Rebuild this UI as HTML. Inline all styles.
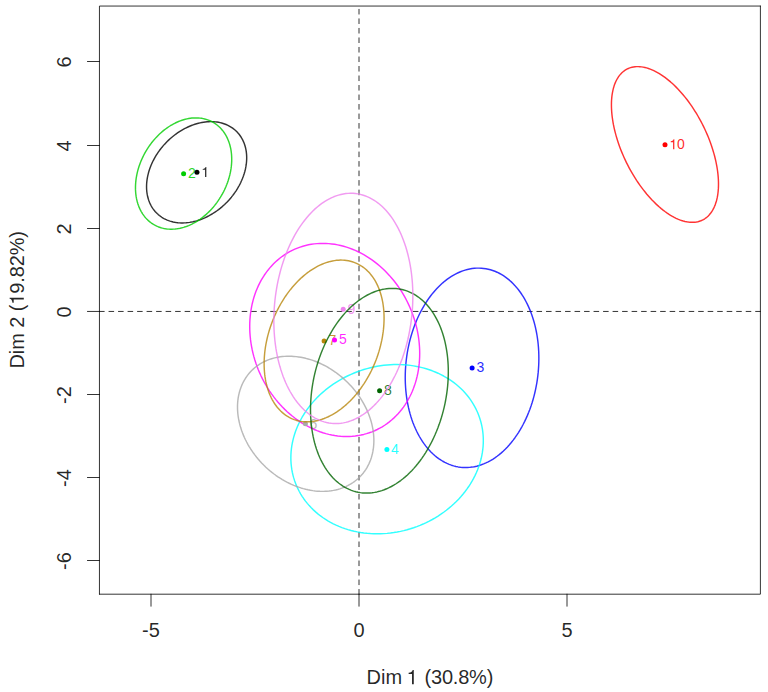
<!DOCTYPE html><html><head><meta charset="utf-8"><title>PCA</title>
<style>html,body{margin:0;padding:0;background:#fff;}svg{display:block;}text{font-family:"Liberation Sans",sans-serif;}</style></head><body>
<svg width="768" height="692" viewBox="0 0 768 692">
<rect width="768" height="692" fill="#fff"/>
<g stroke="#000" stroke-width="0.80" stroke-linecap="round" stroke-dasharray="4.755 4.755" fill="none">
<path d="M359.00,594.20 L359.00,6.06"/>
<path d="M99.45,311.45 L760.40,311.45"/>
</g>
<path d="M206.33,176.90 L206.33,166.97 L205.53,166.97 C205.36,167.94 204.66,168.81 202.73,168.95 L202.73,169.83 L205.09,169.83 L205.09,176.90Z" fill="#000000" fill-opacity="0.85"/>
<path d="M674.33,149.25 L674.33,139.32 L673.53,139.32 C673.36,140.29 672.66,141.16 670.73,141.30 L670.73,142.18 L673.09,142.18 L673.09,149.25Z" fill="#FF0000" fill-opacity="0.85"/><text x="677.09" y="149.25" font-size="14" fill="#FF0000" fill-opacity="0.85" text-anchor="start" letter-spacing="0.000" xml:space="preserve">0</text>
<text x="187.90" y="177.90" font-size="14" fill="#00CD00" fill-opacity="0.85" text-anchor="start" letter-spacing="0.000" xml:space="preserve">2</text>
<text x="476.40" y="372.40" font-size="14" fill="#0000FF" fill-opacity="0.85" text-anchor="start" letter-spacing="0.000" xml:space="preserve">3</text>
<text x="391.10" y="453.60" font-size="14" fill="#00FFFF" fill-opacity="0.85" text-anchor="start" letter-spacing="0.000" xml:space="preserve">4</text>
<text x="339.00" y="343.85" font-size="14" fill="#FF00FF" fill-opacity="0.85" text-anchor="start" letter-spacing="0.000" xml:space="preserve">5</text>
<text x="309.50" y="428.90" font-size="14" fill="#A9A9A9" fill-opacity="0.85" text-anchor="start" letter-spacing="0.000" xml:space="preserve">6</text>
<text x="328.60" y="344.75" font-size="14" fill="#B8860B" fill-opacity="0.85" text-anchor="start" letter-spacing="0.000" xml:space="preserve">7</text>
<text x="383.90" y="395.30" font-size="14" fill="#006400" fill-opacity="0.85" text-anchor="start" letter-spacing="0.000" xml:space="preserve">8</text>
<text x="347.60" y="313.50" font-size="14" fill="#EE82EE" fill-opacity="0.85" text-anchor="start" letter-spacing="0.000" xml:space="preserve">9</text>
<circle cx="196.95" cy="172.30" r="2.5" fill="#000000"/>
<path d="M246.69,157.83 L246.66,159.53 L246.57,161.25 L246.42,162.98 L246.20,164.72 L245.93,166.48 L245.60,168.24 L245.20,170.00 L244.75,171.77 L244.24,173.54 L243.67,175.30 L243.04,177.07 L242.36,178.82 L241.62,180.57 L240.83,182.31 L239.98,184.04 L239.08,185.75 L238.13,187.45 L237.13,189.13 L236.08,190.78 L234.98,192.42 L233.83,194.03 L232.64,195.61 L231.40,197.17 L230.12,198.69 L228.80,200.19 L227.45,201.64 L226.05,203.07 L224.62,204.45 L223.15,205.80 L221.66,207.11 L220.13,208.37 L218.57,209.59 L216.99,210.76 L215.38,211.89 L213.74,212.97 L212.09,214.00 L210.42,214.97 L208.73,215.90 L207.03,216.77 L205.31,217.59 L203.59,218.36 L201.85,219.06 L200.11,219.71 L198.37,220.31 L196.62,220.84 L194.87,221.32 L193.13,221.73 L191.39,222.09 L189.65,222.38 L187.93,222.62 L186.21,222.79 L184.51,222.90 L182.82,222.95 L181.15,222.93 L179.50,222.86 L177.86,222.72 L176.25,222.53 L174.67,222.27 L173.11,221.95 L171.59,221.57 L170.09,221.13 L168.62,220.63 L167.19,220.07 L165.79,219.45 L164.44,218.78 L163.12,218.05 L161.84,217.26 L160.60,216.42 L159.41,215.53 L158.26,214.58 L157.16,213.58 L156.11,212.53 L155.11,211.43 L154.16,210.28 L153.26,209.09 L152.41,207.85 L151.62,206.57 L150.88,205.25 L150.20,203.89 L149.57,202.49 L149.00,201.05 L148.49,199.58 L148.04,198.07 L147.64,196.53 L147.31,194.96 L147.04,193.37 L146.82,191.75 L146.67,190.10 L146.58,188.44 L146.55,186.75 L146.58,185.05 L146.67,183.33 L146.82,181.60 L147.04,179.86 L147.31,178.10 L147.64,176.34 L148.04,174.58 L148.49,172.81 L149.00,171.04 L149.57,169.28 L150.20,167.51 L150.88,165.76 L151.62,164.01 L152.41,162.27 L153.26,160.54 L154.16,158.83 L155.11,157.13 L156.11,155.45 L157.16,153.80 L158.26,152.16 L159.41,150.55 L160.60,148.97 L161.84,147.41 L163.12,145.89 L164.44,144.39 L165.79,142.94 L167.19,141.51 L168.62,140.13 L170.09,138.78 L171.58,137.47 L173.11,136.21 L174.67,134.99 L176.25,133.82 L177.86,132.69 L179.50,131.61 L181.15,130.58 L182.82,129.61 L184.51,128.68 L186.21,127.81 L187.93,126.99 L189.65,126.22 L191.39,125.52 L193.13,124.87 L194.87,124.27 L196.62,123.74 L198.37,123.26 L200.11,122.85 L201.85,122.49 L203.59,122.20 L205.31,121.96 L207.03,121.79 L208.73,121.68 L210.42,121.63 L212.09,121.65 L213.74,121.72 L215.38,121.86 L216.99,122.05 L218.57,122.31 L220.13,122.63 L221.66,123.01 L223.15,123.45 L224.62,123.95 L226.05,124.51 L227.45,125.13 L228.80,125.80 L230.12,126.53 L231.40,127.32 L232.64,128.16 L233.83,129.05 L234.98,130.00 L236.08,131.00 L237.13,132.05 L238.13,133.15 L239.08,134.30 L239.98,135.49 L240.83,136.73 L241.62,138.01 L242.36,139.33 L243.04,140.69 L243.67,142.09 L244.24,143.53 L244.75,145.00 L245.20,146.51 L245.60,148.05 L245.93,149.62 L246.20,151.21 L246.42,152.83 L246.57,154.48 L246.66,156.14Z" stroke="#000000" stroke-opacity="0.80" fill="none" stroke-width="1.45" stroke-linejoin="round"/>
<circle cx="665.00" cy="144.65" r="2.5" fill="#FF0000"/>
<path d="M718.49,184.06 L718.46,186.38 L718.36,188.64 L718.20,190.85 L717.97,193.01 L717.68,195.10 L717.32,197.14 L716.90,199.11 L716.42,201.01 L715.87,202.84 L715.26,204.61 L714.59,206.30 L713.86,207.91 L713.07,209.45 L712.22,210.91 L711.32,212.28 L710.36,213.58 L709.34,214.79 L708.27,215.91 L707.14,216.95 L705.97,217.90 L704.74,218.76 L703.47,219.53 L702.15,220.21 L700.78,220.79 L699.37,221.28 L697.92,221.68 L696.42,221.99 L694.89,222.20 L693.33,222.32 L691.73,222.34 L690.09,222.26 L688.43,222.09 L686.73,221.83 L685.01,221.47 L683.27,221.02 L681.50,220.48 L679.71,219.84 L677.91,219.11 L676.09,218.29 L674.26,217.38 L672.41,216.38 L670.56,215.30 L668.69,214.12 L666.83,212.87 L664.96,211.53 L663.09,210.10 L661.23,208.60 L659.36,207.02 L657.51,205.36 L655.66,203.63 L653.83,201.83 L652.01,199.96 L650.21,198.02 L648.42,196.01 L646.65,193.94 L644.91,191.81 L643.19,189.63 L641.49,187.38 L639.83,185.09 L638.20,182.75 L636.59,180.36 L635.03,177.92 L633.50,175.45 L632.00,172.94 L630.55,170.39 L629.14,167.81 L627.77,165.20 L626.45,162.57 L625.18,159.92 L623.95,157.25 L622.78,154.56 L621.65,151.86 L620.58,149.15 L619.56,146.43 L618.60,143.71 L617.70,141.00 L616.85,138.28 L616.06,135.58 L615.33,132.88 L614.66,130.20 L614.05,127.54 L613.50,124.90 L613.02,122.28 L612.60,119.69 L612.24,117.13 L611.95,114.60 L611.72,112.11 L611.56,109.65 L611.46,107.25 L611.43,104.88 L611.46,102.56 L611.56,100.30 L611.72,98.09 L611.95,95.93 L612.24,93.84 L612.60,91.80 L613.02,89.83 L613.50,87.93 L614.05,86.10 L614.66,84.33 L615.33,82.64 L616.06,81.03 L616.85,79.49 L617.70,78.03 L618.60,76.66 L619.56,75.36 L620.58,74.15 L621.65,73.03 L622.78,71.99 L623.95,71.04 L625.18,70.18 L626.45,69.41 L627.77,68.73 L629.14,68.15 L630.55,67.66 L632.00,67.26 L633.50,66.95 L635.03,66.74 L636.59,66.62 L638.20,66.60 L639.83,66.68 L641.49,66.85 L643.19,67.11 L644.91,67.47 L646.65,67.92 L648.42,68.46 L650.21,69.10 L652.01,69.83 L653.83,70.65 L655.66,71.56 L657.51,72.56 L659.36,73.64 L661.23,74.82 L663.09,76.07 L664.96,77.41 L666.83,78.84 L668.69,80.34 L670.56,81.92 L672.41,83.58 L674.26,85.31 L676.09,87.11 L677.91,88.98 L679.71,90.92 L681.50,92.93 L683.27,95.00 L685.01,97.13 L686.73,99.31 L688.43,101.56 L690.09,103.85 L691.73,106.19 L693.33,108.58 L694.89,111.02 L696.42,113.49 L697.92,116.00 L699.37,118.55 L700.78,121.13 L702.15,123.74 L703.47,126.37 L704.74,129.02 L705.97,131.69 L707.14,134.38 L708.27,137.08 L709.34,139.79 L710.36,142.51 L711.32,145.23 L712.22,147.94 L713.07,150.66 L713.86,153.36 L714.59,156.06 L715.26,158.74 L715.87,161.40 L716.42,164.04 L716.90,166.66 L717.32,169.25 L717.68,171.81 L717.97,174.34 L718.20,176.83 L718.36,179.29 L718.46,181.69Z" stroke="#FF0000" stroke-opacity="0.80" fill="none" stroke-width="1.45" stroke-linejoin="round"/>
<circle cx="183.60" cy="173.70" r="2.5" fill="#00CD00"/>
<path d="M231.72,159.32 L231.69,161.21 L231.60,163.11 L231.46,165.02 L231.25,166.95 L230.99,168.88 L230.67,170.82 L230.29,172.76 L229.86,174.70 L229.36,176.64 L228.82,178.58 L228.22,180.51 L227.56,182.43 L226.85,184.35 L226.09,186.24 L225.27,188.13 L224.41,189.99 L223.49,191.84 L222.53,193.66 L221.52,195.46 L220.46,197.23 L219.36,198.97 L218.21,200.69 L217.03,202.37 L215.80,204.01 L214.53,205.62 L213.23,207.18 L211.88,208.71 L210.51,210.19 L209.10,211.63 L207.66,213.03 L206.19,214.37 L204.69,215.66 L203.17,216.91 L201.63,218.10 L200.06,219.24 L198.47,220.32 L196.86,221.34 L195.24,222.30 L193.60,223.21 L191.96,224.06 L190.30,224.84 L188.63,225.56 L186.96,226.22 L185.28,226.81 L183.60,227.34 L181.92,227.81 L180.24,228.20 L178.57,228.53 L176.90,228.80 L175.24,228.99 L173.60,229.12 L171.96,229.18 L170.34,229.18 L168.73,229.10 L167.14,228.96 L165.57,228.75 L164.03,228.47 L162.51,228.13 L161.01,227.72 L159.54,227.24 L158.10,226.70 L156.69,226.10 L155.32,225.42 L153.97,224.69 L152.67,223.89 L151.40,223.04 L150.17,222.12 L148.99,221.14 L147.84,220.11 L146.74,219.02 L145.68,217.87 L144.67,216.67 L143.71,215.41 L142.79,214.11 L141.93,212.76 L141.11,211.35 L140.35,209.91 L139.64,208.41 L138.98,206.88 L138.38,205.30 L137.84,203.69 L137.34,202.04 L136.91,200.35 L136.53,198.63 L136.21,196.89 L135.95,195.11 L135.74,193.30 L135.60,191.48 L135.51,189.63 L135.48,187.76 L135.51,185.87 L135.60,183.97 L135.74,182.06 L135.95,180.13 L136.21,178.20 L136.53,176.26 L136.91,174.32 L137.34,172.38 L137.84,170.44 L138.38,168.50 L138.98,166.57 L139.64,164.65 L140.35,162.73 L141.11,160.84 L141.93,158.95 L142.79,157.09 L143.71,155.24 L144.67,153.42 L145.68,151.62 L146.74,149.85 L147.84,148.11 L148.99,146.39 L150.17,144.71 L151.40,143.07 L152.67,141.46 L153.97,139.90 L155.32,138.37 L156.69,136.89 L158.10,135.45 L159.54,134.05 L161.01,132.71 L162.51,131.42 L164.03,130.17 L165.57,128.98 L167.14,127.84 L168.73,126.76 L170.34,125.74 L171.96,124.78 L173.60,123.87 L175.24,123.02 L176.90,122.24 L178.57,121.52 L180.24,120.86 L181.92,120.27 L183.60,119.74 L185.28,119.27 L186.96,118.88 L188.63,118.55 L190.30,118.28 L191.96,118.09 L193.60,117.96 L195.24,117.90 L196.86,117.90 L198.47,117.98 L200.06,118.12 L201.63,118.33 L203.17,118.61 L204.69,118.95 L206.19,119.36 L207.66,119.84 L209.10,120.38 L210.51,120.98 L211.88,121.66 L213.23,122.39 L214.53,123.19 L215.80,124.04 L217.03,124.96 L218.21,125.94 L219.36,126.97 L220.46,128.06 L221.52,129.21 L222.53,130.41 L223.49,131.67 L224.41,132.97 L225.27,134.32 L226.09,135.73 L226.85,137.17 L227.56,138.67 L228.22,140.20 L228.82,141.78 L229.36,143.39 L229.86,145.04 L230.29,146.73 L230.67,148.45 L230.99,150.19 L231.25,151.97 L231.46,153.78 L231.60,155.60 L231.69,157.45Z" stroke="#00CD00" stroke-opacity="0.80" fill="none" stroke-width="1.45" stroke-linejoin="round"/>
<circle cx="472.10" cy="368.10" r="2.5" fill="#0000FF"/>
<path d="M538.86,358.24 L538.82,361.71 L538.70,365.18 L538.49,368.66 L538.21,372.14 L537.85,375.62 L537.40,379.08 L536.88,382.53 L536.27,385.97 L535.59,389.38 L534.83,392.76 L534.00,396.12 L533.08,399.44 L532.10,402.72 L531.04,405.96 L529.91,409.15 L528.71,412.29 L527.44,415.38 L526.10,418.41 L524.70,421.38 L523.23,424.28 L521.70,427.12 L520.11,429.88 L518.46,432.57 L516.75,435.17 L514.99,437.70 L513.18,440.14 L511.32,442.49 L509.41,444.75 L507.45,446.92 L505.46,448.99 L503.42,450.97 L501.34,452.84 L499.22,454.60 L497.08,456.27 L494.90,457.82 L492.70,459.27 L490.47,460.60 L488.21,461.82 L485.94,462.92 L483.65,463.91 L481.35,464.79 L479.03,465.54 L476.71,466.18 L474.38,466.69 L472.05,467.09 L469.72,467.36 L467.39,467.51 L465.07,467.55 L462.75,467.46 L460.45,467.25 L458.16,466.91 L455.89,466.46 L453.63,465.89 L451.40,465.19 L449.20,464.38 L447.02,463.45 L444.88,462.41 L442.76,461.25 L440.68,459.97 L438.65,458.59 L436.65,457.09 L434.69,455.48 L432.78,453.77 L430.92,451.95 L429.11,450.03 L427.35,448.01 L425.64,445.89 L423.99,443.68 L422.40,441.38 L420.87,438.98 L419.40,436.50 L418.00,433.93 L416.66,431.29 L415.39,428.56 L414.19,425.77 L413.06,422.90 L412.00,419.96 L411.02,416.97 L410.10,413.91 L409.27,410.79 L408.51,407.63 L407.83,404.41 L407.22,401.15 L406.70,397.85 L406.25,394.51 L405.89,391.14 L405.61,387.75 L405.40,384.32 L405.28,380.88 L405.24,377.42 L405.28,373.95 L405.40,370.48 L405.61,367.00 L405.89,363.52 L406.25,360.04 L406.70,356.58 L407.22,353.13 L407.83,349.69 L408.51,346.28 L409.27,342.90 L410.10,339.54 L411.02,336.22 L412.00,332.94 L413.06,329.70 L414.19,326.51 L415.39,323.37 L416.66,320.28 L418.00,317.25 L419.40,314.28 L420.87,311.38 L422.40,308.54 L423.99,305.78 L425.64,303.09 L427.35,300.49 L429.11,297.96 L430.92,295.52 L432.78,293.17 L434.69,290.91 L436.65,288.74 L438.64,286.67 L440.68,284.69 L442.76,282.82 L444.88,281.06 L447.02,279.39 L449.20,277.84 L451.40,276.39 L453.63,275.06 L455.89,273.84 L458.16,272.74 L460.45,271.75 L462.75,270.87 L465.07,270.12 L467.39,269.48 L469.72,268.97 L472.05,268.57 L474.38,268.30 L476.71,268.15 L479.03,268.11 L481.35,268.20 L483.65,268.41 L485.94,268.75 L488.21,269.20 L490.47,269.77 L492.70,270.47 L494.90,271.28 L497.08,272.21 L499.22,273.25 L501.34,274.41 L503.42,275.69 L505.46,277.07 L507.45,278.57 L509.41,280.18 L511.32,281.89 L513.18,283.71 L514.99,285.63 L516.75,287.65 L518.46,289.77 L520.11,291.98 L521.70,294.28 L523.23,296.68 L524.70,299.16 L526.10,301.73 L527.44,304.37 L528.71,307.10 L529.91,309.89 L531.04,312.76 L532.10,315.70 L533.08,318.69 L534.00,321.75 L534.83,324.87 L535.59,328.03 L536.27,331.25 L536.88,334.51 L537.40,337.81 L537.85,341.15 L538.21,344.52 L538.49,347.91 L538.70,351.34 L538.82,354.78Z" stroke="#0000FF" stroke-opacity="0.80" fill="none" stroke-width="1.45" stroke-linejoin="round"/>
<circle cx="386.90" cy="449.50" r="2.5" fill="#00FFFF"/>
<path d="M483.32,440.60 L483.26,443.54 L483.09,446.49 L482.79,449.45 L482.38,452.40 L481.86,455.35 L481.22,458.29 L480.46,461.22 L479.59,464.14 L478.61,467.04 L477.52,469.91 L476.31,472.77 L475.00,475.59 L473.58,478.38 L472.06,481.13 L470.43,483.85 L468.70,486.52 L466.87,489.15 L464.94,491.73 L462.92,494.26 L460.81,496.73 L458.60,499.15 L456.31,501.50 L453.94,503.79 L451.48,506.01 L448.95,508.17 L446.34,510.25 L443.65,512.26 L440.90,514.19 L438.08,516.04 L435.20,517.81 L432.27,519.50 L429.27,521.10 L426.23,522.61 L423.14,524.04 L420.00,525.37 L416.83,526.61 L413.61,527.76 L410.37,528.81 L407.10,529.76 L403.80,530.61 L400.48,531.37 L397.15,532.03 L393.80,532.58 L390.45,533.03 L387.09,533.38 L383.73,533.63 L380.38,533.78 L377.03,533.82 L373.70,533.76 L370.38,533.59 L367.08,533.33 L363.81,532.96 L360.57,532.49 L357.35,531.91 L354.18,531.24 L351.04,530.47 L347.95,529.59 L344.91,528.62 L341.91,527.56 L338.98,526.39 L336.10,525.14 L333.28,523.79 L330.53,522.35 L327.84,520.82 L325.23,519.20 L322.70,517.50 L320.24,515.71 L317.87,513.85 L315.58,511.90 L313.37,509.88 L311.26,507.78 L309.24,505.62 L307.31,503.38 L305.48,501.08 L303.75,498.71 L302.12,496.29 L300.60,493.81 L299.18,491.27 L297.87,488.68 L296.66,486.04 L295.57,483.36 L294.59,480.64 L293.72,477.88 L292.96,475.08 L292.32,472.25 L291.80,469.40 L291.39,466.52 L291.09,463.62 L290.92,460.70 L290.86,457.76 L290.92,454.82 L291.09,451.87 L291.39,448.91 L291.80,445.96 L292.32,443.01 L292.96,440.07 L293.72,437.14 L294.59,434.22 L295.57,431.32 L296.66,428.45 L297.87,425.59 L299.18,422.77 L300.60,419.98 L302.12,417.23 L303.75,414.51 L305.48,411.84 L307.31,409.21 L309.24,406.63 L311.26,404.10 L313.37,401.63 L315.58,399.21 L317.87,396.86 L320.24,394.57 L322.70,392.35 L325.23,390.19 L327.84,388.11 L330.53,386.10 L333.28,384.17 L336.10,382.32 L338.97,380.55 L341.91,378.86 L344.91,377.26 L347.95,375.75 L351.04,374.32 L354.18,372.99 L357.35,371.75 L360.57,370.60 L363.81,369.55 L367.08,368.60 L370.38,367.75 L373.70,366.99 L377.03,366.33 L380.38,365.78 L383.73,365.33 L387.09,364.98 L390.45,364.73 L393.80,364.58 L397.15,364.54 L400.48,364.60 L403.80,364.77 L407.10,365.03 L410.37,365.40 L413.61,365.87 L416.83,366.45 L420.00,367.12 L423.14,367.89 L426.23,368.77 L429.27,369.74 L432.27,370.80 L435.20,371.97 L438.08,373.22 L440.90,374.57 L443.65,376.01 L446.34,377.54 L448.95,379.16 L451.48,380.86 L453.94,382.65 L456.31,384.51 L458.60,386.46 L460.81,388.48 L462.92,390.58 L464.94,392.74 L466.87,394.98 L468.70,397.28 L470.43,399.65 L472.06,402.07 L473.58,404.55 L475.00,407.09 L476.31,409.68 L477.52,412.32 L478.61,415.00 L479.59,417.72 L480.46,420.48 L481.22,423.28 L481.86,426.11 L482.38,428.96 L482.79,431.84 L483.09,434.74 L483.26,437.66Z" stroke="#00FFFF" stroke-opacity="0.80" fill="none" stroke-width="1.45" stroke-linejoin="round"/>
<circle cx="334.50" cy="340.10" r="2.5" fill="#FF00FF"/>
<path d="M419.70,353.46 L419.65,356.79 L419.49,360.10 L419.23,363.38 L418.87,366.64 L418.41,369.86 L417.84,373.05 L417.18,376.19 L416.41,379.29 L415.54,382.35 L414.57,385.35 L413.51,388.30 L412.35,391.18 L411.10,394.01 L409.75,396.77 L408.31,399.46 L406.79,402.08 L405.17,404.62 L403.47,407.08 L401.68,409.47 L399.82,411.76 L397.87,413.97 L395.85,416.09 L393.75,418.12 L391.58,420.05 L389.34,421.88 L387.04,423.62 L384.67,425.25 L382.24,426.78 L379.75,428.20 L377.20,429.51 L374.61,430.72 L371.97,431.82 L369.28,432.80 L366.55,433.67 L363.78,434.42 L360.97,435.07 L358.14,435.59 L355.27,436.00 L352.38,436.29 L349.47,436.46 L346.54,436.52 L343.59,436.46 L340.64,436.28 L337.68,435.98 L334.71,435.57 L331.74,435.04 L328.78,434.39 L325.83,433.63 L322.88,432.76 L319.95,431.77 L317.04,430.67 L314.15,429.46 L311.28,428.14 L308.45,426.72 L305.64,425.18 L302.87,423.55 L300.14,421.81 L297.45,419.97 L294.81,418.04 L292.22,416.00 L289.67,413.88 L287.18,411.67 L284.75,409.37 L282.38,406.98 L280.08,404.52 L277.84,401.97 L275.67,399.35 L273.57,396.66 L271.55,393.89 L269.60,391.06 L267.74,388.17 L265.95,385.22 L264.25,382.22 L262.63,379.16 L261.11,376.06 L259.67,372.91 L258.32,369.72 L257.07,366.50 L255.91,363.24 L254.85,359.96 L253.88,356.65 L253.01,353.32 L252.24,349.97 L251.58,346.62 L251.01,343.25 L250.55,339.88 L250.19,336.51 L249.93,333.14 L249.77,329.79 L249.72,326.44 L249.77,323.11 L249.93,319.80 L250.19,316.52 L250.55,313.26 L251.01,310.04 L251.58,306.85 L252.24,303.71 L253.01,300.61 L253.88,297.55 L254.85,294.55 L255.91,291.60 L257.07,288.72 L258.32,285.89 L259.67,283.13 L261.11,280.44 L262.63,277.82 L264.25,275.28 L265.95,272.82 L267.74,270.43 L269.60,268.14 L271.55,265.93 L273.57,263.81 L275.67,261.78 L277.84,259.85 L280.08,258.02 L282.38,256.28 L284.75,254.65 L287.18,253.12 L289.67,251.70 L292.21,250.39 L294.81,249.18 L297.45,248.08 L300.14,247.10 L302.87,246.23 L305.64,245.48 L308.45,244.83 L311.28,244.31 L314.15,243.90 L317.04,243.61 L319.95,243.44 L322.88,243.38 L325.83,243.44 L328.78,243.62 L331.74,243.92 L334.71,244.33 L337.68,244.86 L340.64,245.51 L343.59,246.27 L346.54,247.14 L349.47,248.13 L352.38,249.23 L355.27,250.44 L358.14,251.76 L360.97,253.18 L363.78,254.72 L366.55,256.35 L369.28,258.09 L371.97,259.93 L374.61,261.86 L377.20,263.90 L379.75,266.02 L382.24,268.23 L384.67,270.53 L387.04,272.92 L389.34,275.38 L391.58,277.93 L393.75,280.55 L395.85,283.24 L397.87,286.01 L399.82,288.84 L401.68,291.73 L403.47,294.68 L405.17,297.68 L406.79,300.74 L408.31,303.84 L409.75,306.99 L411.10,310.18 L412.35,313.40 L413.51,316.66 L414.57,319.94 L415.54,323.25 L416.41,326.58 L417.18,329.93 L417.84,333.28 L418.41,336.65 L418.87,340.02 L419.23,343.39 L419.49,346.76 L419.65,350.11Z" stroke="#FF00FF" stroke-opacity="0.80" fill="none" stroke-width="1.45" stroke-linejoin="round"/>
<circle cx="305.40" cy="423.70" r="2.5" fill="#A9A9A9"/>
<path d="M373.88,440.53 L373.84,442.80 L373.71,445.05 L373.51,447.28 L373.22,449.48 L372.84,451.64 L372.39,453.77 L371.85,455.87 L371.24,457.92 L370.54,459.94 L369.77,461.91 L368.91,463.83 L367.98,465.71 L366.98,467.53 L365.90,469.30 L364.74,471.02 L363.52,472.67 L362.22,474.27 L360.86,475.81 L359.42,477.28 L357.93,478.69 L356.37,480.03 L354.74,481.30 L353.06,482.51 L351.32,483.64 L349.52,484.70 L347.67,485.68 L345.77,486.59 L343.82,487.42 L341.83,488.18 L339.79,488.85 L337.70,489.45 L335.58,489.97 L333.43,490.40 L331.23,490.76 L329.01,491.03 L326.76,491.22 L324.49,491.33 L322.19,491.36 L319.87,491.30 L317.53,491.17 L315.18,490.95 L312.82,490.65 L310.45,490.26 L308.07,489.80 L305.69,489.25 L303.31,488.63 L300.93,487.93 L298.56,487.15 L296.20,486.29 L293.85,485.35 L291.51,484.34 L289.19,483.26 L286.89,482.10 L284.62,480.88 L282.37,479.58 L280.15,478.22 L277.95,476.79 L275.80,475.29 L273.68,473.73 L271.60,472.12 L269.55,470.44 L267.56,468.70 L265.61,466.91 L263.71,465.07 L261.86,463.18 L260.06,461.24 L258.32,459.25 L256.64,457.23 L255.01,455.16 L253.45,453.05 L251.96,450.90 L250.52,448.73 L249.16,446.52 L247.86,444.29 L246.64,442.03 L245.48,439.75 L244.40,437.44 L243.40,435.13 L242.47,432.80 L241.61,430.45 L240.84,428.10 L240.14,425.75 L239.53,423.39 L238.99,421.03 L238.54,418.67 L238.16,416.33 L237.87,413.99 L237.67,411.66 L237.54,409.35 L237.50,407.05 L237.54,404.78 L237.67,402.53 L237.87,400.30 L238.16,398.10 L238.54,395.94 L238.99,393.81 L239.53,391.71 L240.14,389.66 L240.84,387.64 L241.61,385.67 L242.47,383.75 L243.40,381.87 L244.40,380.05 L245.48,378.28 L246.64,376.56 L247.86,374.91 L249.16,373.31 L250.52,371.77 L251.96,370.30 L253.45,368.89 L255.01,367.55 L256.64,366.28 L258.32,365.07 L260.06,363.94 L261.86,362.88 L263.71,361.90 L265.61,360.99 L267.56,360.16 L269.55,359.40 L271.59,358.73 L273.68,358.13 L275.80,357.61 L277.95,357.18 L280.15,356.82 L282.37,356.55 L284.62,356.36 L286.89,356.25 L289.19,356.22 L291.51,356.28 L293.85,356.41 L296.20,356.63 L298.56,356.93 L300.93,357.32 L303.31,357.78 L305.69,358.33 L308.07,358.95 L310.45,359.65 L312.82,360.43 L315.18,361.29 L317.53,362.23 L319.87,363.24 L322.19,364.32 L324.49,365.48 L326.76,366.70 L329.01,368.00 L331.23,369.36 L333.43,370.79 L335.58,372.29 L337.70,373.85 L339.79,375.46 L341.83,377.14 L343.82,378.88 L345.77,380.67 L347.67,382.51 L349.52,384.40 L351.32,386.34 L353.06,388.33 L354.74,390.35 L356.37,392.42 L357.93,394.53 L359.42,396.68 L360.86,398.85 L362.22,401.06 L363.52,403.29 L364.74,405.55 L365.90,407.83 L366.98,410.14 L367.98,412.45 L368.91,414.78 L369.77,417.13 L370.54,419.48 L371.24,421.83 L371.85,424.19 L372.39,426.55 L372.84,428.91 L373.22,431.25 L373.51,433.59 L373.71,435.92 L373.84,438.23Z" stroke="#A9A9A9" stroke-opacity="0.80" fill="none" stroke-width="1.45" stroke-linejoin="round"/>
<circle cx="324.10" cy="341.00" r="2.5" fill="#B8860B"/>
<path d="M384.07,318.11 L384.03,320.84 L383.92,323.58 L383.74,326.35 L383.49,329.13 L383.16,331.93 L382.76,334.74 L382.29,337.56 L381.75,340.38 L381.13,343.20 L380.45,346.02 L379.70,348.84 L378.89,351.64 L378.00,354.43 L377.05,357.21 L376.04,359.96 L374.96,362.69 L373.82,365.40 L372.62,368.08 L371.36,370.72 L370.04,373.32 L368.67,375.89 L367.24,378.41 L365.76,380.89 L364.23,383.32 L362.65,385.70 L361.02,388.03 L359.35,390.29 L357.63,392.50 L355.88,394.64 L354.09,396.72 L352.25,398.73 L350.39,400.67 L348.49,402.54 L346.57,404.33 L344.61,406.04 L342.63,407.68 L340.63,409.23 L338.61,410.70 L336.57,412.09 L334.51,413.39 L332.45,414.60 L330.37,415.72 L328.28,416.75 L326.19,417.69 L324.10,418.54 L322.01,419.29 L319.92,419.94 L317.83,420.50 L315.75,420.96 L313.69,421.32 L311.63,421.59 L309.59,421.76 L307.57,421.83 L305.57,421.80 L303.59,421.67 L301.63,421.45 L299.71,421.12 L297.81,420.70 L295.95,420.18 L294.12,419.57 L292.32,418.85 L290.57,418.05 L288.85,417.15 L287.18,416.16 L285.55,415.07 L283.97,413.90 L282.44,412.63 L280.96,411.28 L279.53,409.85 L278.16,408.33 L276.84,406.72 L275.58,405.04 L274.38,403.28 L273.24,401.44 L272.16,399.53 L271.15,397.55 L270.20,395.50 L269.31,393.38 L268.50,391.20 L267.75,388.96 L267.07,386.66 L266.45,384.30 L265.91,381.89 L265.44,379.44 L265.04,376.93 L264.71,374.38 L264.46,371.79 L264.28,369.16 L264.17,366.50 L264.13,363.81 L264.17,361.08 L264.28,358.34 L264.46,355.57 L264.71,352.79 L265.04,349.99 L265.44,347.18 L265.91,344.36 L266.45,341.54 L267.07,338.72 L267.75,335.90 L268.50,333.08 L269.31,330.28 L270.20,327.49 L271.15,324.71 L272.16,321.96 L273.24,319.23 L274.38,316.52 L275.58,313.84 L276.84,311.20 L278.16,308.60 L279.53,306.03 L280.96,303.51 L282.44,301.03 L283.97,298.60 L285.55,296.22 L287.18,293.89 L288.85,291.63 L290.57,289.42 L292.32,287.28 L294.12,285.20 L295.95,283.19 L297.81,281.25 L299.71,279.38 L301.63,277.59 L303.59,275.88 L305.57,274.24 L307.57,272.69 L309.59,271.22 L311.63,269.83 L313.69,268.53 L315.75,267.32 L317.83,266.20 L319.92,265.17 L322.01,264.23 L324.10,263.38 L326.19,262.63 L328.28,261.98 L330.37,261.42 L332.45,260.96 L334.51,260.60 L336.57,260.33 L338.61,260.16 L340.63,260.09 L342.63,260.12 L344.61,260.25 L346.57,260.47 L348.49,260.80 L350.39,261.22 L352.25,261.74 L354.09,262.35 L355.88,263.07 L357.63,263.87 L359.35,264.77 L361.02,265.76 L362.65,266.85 L364.23,268.02 L365.76,269.29 L367.24,270.64 L368.67,272.07 L370.04,273.59 L371.36,275.20 L372.62,276.88 L373.82,278.64 L374.96,280.48 L376.04,282.39 L377.05,284.37 L378.00,286.42 L378.89,288.54 L379.70,290.72 L380.45,292.96 L381.13,295.26 L381.75,297.62 L382.29,300.03 L382.76,302.48 L383.16,304.99 L383.49,307.54 L383.74,310.13 L383.92,312.76 L384.03,315.42Z" stroke="#B8860B" stroke-opacity="0.80" fill="none" stroke-width="1.45" stroke-linejoin="round"/>
<circle cx="379.60" cy="390.70" r="2.5" fill="#006400"/>
<path d="M448.31,371.80 L448.27,375.32 L448.14,378.86 L447.93,382.41 L447.64,385.98 L447.26,389.55 L446.80,393.12 L446.26,396.69 L445.64,400.25 L444.94,403.80 L444.15,407.34 L443.29,410.85 L442.35,414.34 L441.34,417.80 L440.25,421.23 L439.08,424.62 L437.84,427.97 L436.53,431.27 L435.15,434.53 L433.70,437.73 L432.19,440.88 L430.61,443.96 L428.97,446.98 L427.27,449.93 L425.51,452.81 L423.70,455.61 L421.83,458.33 L419.91,460.97 L417.94,463.53 L415.92,465.99 L413.86,468.37 L411.76,470.65 L409.61,472.83 L407.43,474.92 L405.22,476.90 L402.98,478.77 L400.70,480.54 L398.40,482.20 L396.08,483.75 L393.74,485.18 L391.37,486.50 L389.00,487.70 L386.61,488.79 L384.22,489.75 L381.81,490.60 L379.41,491.32 L377.01,491.92 L374.60,492.40 L372.21,492.75 L369.82,492.98 L367.45,493.08 L365.08,493.06 L362.74,492.92 L360.42,492.65 L358.12,492.25 L355.84,491.74 L353.60,491.10 L351.39,490.33 L349.21,489.45 L347.06,488.45 L344.96,487.32 L342.90,486.08 L340.88,484.72 L338.91,483.25 L336.99,481.67 L335.12,479.97 L333.31,478.17 L331.55,476.26 L329.85,474.25 L328.21,472.13 L326.63,469.91 L325.12,467.60 L323.67,465.20 L322.29,462.70 L320.98,460.12 L319.74,457.45 L318.57,454.70 L317.48,451.87 L316.47,448.97 L315.53,446.00 L314.67,442.96 L313.88,439.85 L313.18,436.69 L312.56,433.47 L312.02,430.20 L311.56,426.88 L311.18,423.52 L310.89,420.11 L310.68,416.67 L310.55,413.20 L310.51,409.70 L310.55,406.18 L310.68,402.64 L310.89,399.09 L311.18,395.52 L311.56,391.95 L312.02,388.38 L312.56,384.81 L313.18,381.25 L313.88,377.70 L314.67,374.16 L315.53,370.65 L316.47,367.16 L317.48,363.70 L318.57,360.27 L319.74,356.88 L320.98,353.53 L322.29,350.23 L323.67,346.97 L325.12,343.77 L326.63,340.62 L328.21,337.54 L329.85,334.52 L331.55,331.57 L333.31,328.69 L335.12,325.89 L336.99,323.17 L338.91,320.53 L340.88,317.97 L342.90,315.51 L344.96,313.13 L347.06,310.85 L349.21,308.67 L351.39,306.58 L353.60,304.60 L355.84,302.73 L358.12,300.96 L360.42,299.30 L362.74,297.75 L365.08,296.32 L367.45,295.00 L369.82,293.80 L372.21,292.71 L374.60,291.75 L377.01,290.90 L379.41,290.18 L381.81,289.58 L384.22,289.10 L386.61,288.75 L389.00,288.52 L391.37,288.42 L393.74,288.44 L396.08,288.58 L398.40,288.85 L400.70,289.25 L402.98,289.76 L405.22,290.40 L407.43,291.17 L409.61,292.05 L411.76,293.05 L413.86,294.18 L415.92,295.42 L417.94,296.78 L419.91,298.25 L421.83,299.83 L423.70,301.53 L425.51,303.33 L427.27,305.24 L428.97,307.25 L430.61,309.37 L432.19,311.59 L433.70,313.90 L435.15,316.30 L436.53,318.80 L437.84,321.38 L439.08,324.05 L440.25,326.80 L441.34,329.63 L442.35,332.53 L443.29,335.50 L444.15,338.54 L444.94,341.65 L445.64,344.81 L446.26,348.03 L446.80,351.30 L447.26,354.62 L447.64,357.98 L447.93,361.39 L448.14,364.83 L448.27,368.30Z" stroke="#006400" stroke-opacity="0.80" fill="none" stroke-width="1.45" stroke-linejoin="round"/>
<circle cx="343.20" cy="309.30" r="2.5" fill="#EE82EE"/>
<path d="M412.84,295.95 L412.80,299.96 L412.67,303.97 L412.46,307.99 L412.16,312.00 L411.78,316.02 L411.32,320.02 L410.78,324.01 L410.15,327.98 L409.44,331.93 L408.65,335.85 L407.78,339.74 L406.83,343.58 L405.81,347.39 L404.70,351.14 L403.53,354.85 L402.28,358.50 L400.96,362.08 L399.57,365.61 L398.11,369.06 L396.58,372.44 L394.99,375.74 L393.33,378.95 L391.62,382.09 L389.84,385.13 L388.01,388.08 L386.13,390.93 L384.19,393.68 L382.20,396.33 L380.17,398.87 L378.09,401.30 L375.97,403.62 L373.81,405.82 L371.61,407.90 L369.38,409.86 L367.11,411.70 L364.82,413.41 L362.50,414.99 L360.15,416.44 L357.79,417.77 L355.41,418.96 L353.01,420.01 L350.60,420.93 L348.19,421.71 L345.77,422.35 L343.34,422.86 L340.91,423.22 L338.49,423.44 L336.08,423.53 L333.67,423.47 L331.27,423.28 L328.89,422.94 L326.53,422.47 L324.18,421.85 L321.86,421.10 L319.57,420.21 L317.30,419.18 L315.07,418.02 L312.87,416.73 L310.71,415.30 L308.59,413.74 L306.51,412.06 L304.48,410.25 L302.49,408.31 L300.55,406.25 L298.67,404.08 L296.84,401.78 L295.06,399.38 L293.35,396.86 L291.69,394.23 L290.10,391.50 L288.57,388.67 L287.11,385.74 L285.72,382.72 L284.40,379.61 L283.15,376.41 L281.98,373.12 L280.87,369.76 L279.85,366.32 L278.90,362.82 L278.03,359.24 L277.24,355.61 L276.53,351.91 L275.90,348.17 L275.36,344.37 L274.90,340.53 L274.52,336.65 L274.22,332.74 L274.01,328.80 L273.88,324.83 L273.84,320.85 L273.88,316.84 L274.01,312.83 L274.22,308.81 L274.52,304.80 L274.90,300.78 L275.36,296.78 L275.90,292.79 L276.53,288.82 L277.24,284.87 L278.03,280.95 L278.90,277.06 L279.85,273.22 L280.87,269.41 L281.98,265.66 L283.15,261.95 L284.40,258.30 L285.72,254.72 L287.11,251.19 L288.57,247.74 L290.10,244.36 L291.69,241.06 L293.35,237.85 L295.06,234.71 L296.84,231.67 L298.67,228.72 L300.55,225.87 L302.49,223.12 L304.48,220.47 L306.51,217.93 L308.59,215.50 L310.71,213.18 L312.87,210.98 L315.07,208.90 L317.30,206.94 L319.57,205.10 L321.86,203.39 L324.18,201.81 L326.53,200.36 L328.89,199.03 L331.27,197.84 L333.67,196.79 L336.08,195.87 L338.49,195.09 L340.91,194.45 L343.34,193.94 L345.77,193.58 L348.19,193.36 L350.60,193.27 L353.01,193.33 L355.41,193.52 L357.79,193.86 L360.15,194.33 L362.50,194.95 L364.82,195.70 L367.11,196.59 L369.38,197.62 L371.61,198.78 L373.81,200.07 L375.97,201.50 L378.09,203.06 L380.17,204.74 L382.20,206.55 L384.19,208.49 L386.13,210.55 L388.01,212.72 L389.84,215.02 L391.62,217.42 L393.33,219.94 L394.99,222.57 L396.58,225.30 L398.11,228.13 L399.57,231.06 L400.96,234.08 L402.28,237.19 L403.53,240.39 L404.70,243.68 L405.81,247.04 L406.83,250.48 L407.78,253.98 L408.65,257.56 L409.44,261.19 L410.15,264.89 L410.78,268.63 L411.32,272.43 L411.78,276.27 L412.16,280.15 L412.46,284.06 L412.67,288.00 L412.80,291.97Z" stroke="#EE82EE" stroke-opacity="0.80" fill="none" stroke-width="1.45" stroke-linejoin="round"/>
<g stroke="#000" stroke-width="0.80" stroke-linecap="round" stroke-linejoin="round" fill="none">
<path d="M99.45,594.20 L99.45,6.06 L760.40,6.06"/>
<path d="M760.40,6.06 L760.40,594.20 L99.45,594.20"/>
<path d="M151.00,594.20 V606.20"/>
<path d="M359.00,594.20 V606.20"/>
<path d="M567.00,594.20 V606.20"/>
<path d="M99.45,560.50 H87.45"/>
<path d="M99.45,477.50 H87.45"/>
<path d="M99.45,394.50 H87.45"/>
<path d="M99.45,311.45 H87.45"/>
<path d="M99.45,228.50 H87.45"/>
<path d="M99.45,145.50 H87.45"/>
<path d="M99.45,61.50 H87.45"/>
</g>
<g font-size="20" fill="#000" fill-opacity="0.85" text-anchor="middle">
<text x="151.00" y="636.6">-5</text>
<text x="359.00" y="636.6">0</text>
<text x="567.00" y="636.6">5</text>
<text transform="translate(71.2,561.00) rotate(-90)">-6</text>
<text transform="translate(71.2,478.00) rotate(-90)">-4</text>
<text transform="translate(71.2,395.00) rotate(-90)">-2</text>
<text transform="translate(71.2,311.95) rotate(-90)">0</text>
<text transform="translate(71.2,229.00) rotate(-90)">2</text>
<text transform="translate(71.2,146.00) rotate(-90)">4</text>
<text transform="translate(71.2,62.00) rotate(-90)">6</text>
<text x="366.6" y="684.2" text-anchor="start">Dim</text>
<path d="M413.78,684.20 L413.78,670.02 L412.64,670.02 C412.40,671.40 411.40,672.64 408.64,672.84 L408.64,674.10 L412.02,674.10 L412.02,684.20Z" fill="#000" fill-opacity="0.85"/>
<text x="424.51" y="684.2" text-anchor="start" letter-spacing="-0.2">(30.8%)</text>
<g transform="translate(23.8,299.8) rotate(-90)"><text x="-68.70" y="0.00" font-size="20" fill="#000" fill-opacity="0.85" text-anchor="start" letter-spacing="-0.110" xml:space="preserve">Dim 2 (</text><path d="M2.16,0.00 L2.16,-14.18 L1.02,-14.18 C0.78,-12.80 -0.22,-11.56 -2.98,-11.36 L-2.98,-10.10 L0.40,-10.10 L0.40,0.00Z" fill="#000" fill-opacity="0.85"/><text x="5.99" y="0.00" font-size="20" fill="#000" fill-opacity="0.85" text-anchor="start" letter-spacing="-0.110" xml:space="preserve">9.82%)</text></g>
</g>
</svg></body></html>
